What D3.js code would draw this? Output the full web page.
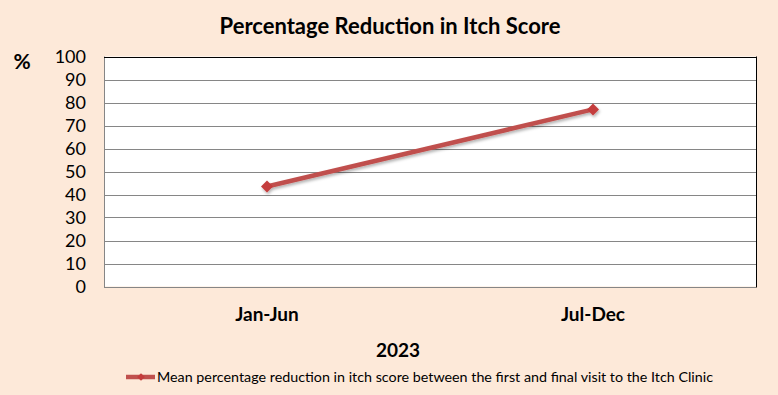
<!DOCTYPE html>
<html>
<head>
<meta charset="utf-8">
<script src="https://cdn.jsdelivr.net/npm/d3@7"></script>
<style>
  body { margin: 0; background: #fde9d9; }
  svg { display: block; }
  text { font-family: Lato, "Open Sans", sans-serif; fill: #000; }
</style>
</head>
<body>
<svg id="chart" width="778" height="395"></svg>
<script>
// chart data
var periods = ["Jan-Jun", "Jul-Dec"];
var reduction = [43.5, 77];
var yTicks = [0, 10, 20, 30, 40, 50, 60, 70, 80, 90, 100];
var seriesName = "Mean percentage reduction in itch score between the first and final visit to the Itch Clinic";
var chartTitle = "Percentage Reduction in Itch Score";
var xTitle = "2023";

var svg = d3.select("#chart");
var W = 778, H = 395;
var plotL = 104, plotR = 756, plotT = 56.5, plotB = 286.5;

svg.append("rect").attr("width", W).attr("height", H).attr("fill", "#fde9d9");

var xScale = d3.scaleBand().domain(periods).range([plotL, plotR]);
var yScale = d3.scaleLinear().domain([0, 100]).range([plotB, plotT]);

// plot area
svg.append("rect")
    .attr("x", plotL).attr("y", plotT)
    .attr("width", plotR - plotL).attr("height", plotB - plotT)
    .attr("fill", "#fff");

// gridlines
svg.append("g").selectAll("line")
    .data(yTicks)
    .enter().append("line")
    .attr("x1", plotL).attr("x2", plotR)
    .attr("y1", function (d) { return Math.round(yScale(d)) + 0.5; })
    .attr("y2", function (d) { return Math.round(yScale(d)) + 0.5; })
    .attr("stroke", "#868686").attr("stroke-width", 1);

// border: left/bottom gray, top/right dark
svg.append("line").attr("x1", plotL + 0.5).attr("x2", plotL + 0.5)
    .attr("y1", plotT).attr("y2", plotB + 1).attr("stroke", "#868686");
svg.append("line").attr("x1", plotL).attr("x2", plotR + 1)
    .attr("y1", Math.round(plotT) + 0.5).attr("y2", Math.round(plotT) + 0.5).attr("stroke", "#000");
svg.append("line").attr("x1", plotR + 0.5).attr("x2", plotR + 0.5)
    .attr("y1", plotT).attr("y2", plotB + 1).attr("stroke", "#000");

// y tick labels
svg.append("g").selectAll("text")
    .data(yTicks)
    .enter().append("text")
    .attr("x", 86)
    .attr("y", function (d) { return yScale(d); })
    .attr("dy", "0.36em")
    .attr("text-anchor", "end")
    .style("font-size", "18px")
    .text(function (d) { return d; });

// x labels
svg.append("g").selectAll("text")
    .data(periods)
    .enter().append("text")
    .attr("x", function (d) { return xScale(d) + xScale.bandwidth() / 2; })
    .attr("y", 321)
    .attr("text-anchor", "middle")
    .style("font-size", "19px").style("font-weight", "bold")
    .text(function (d) { return d; });

svg.append("text").attr("x", 398).attr("y", 357)
    .attr("text-anchor", "middle")
    .style("font-size", "19px").style("font-weight", "bold")
    .text(xTitle);

svg.append("text").attr("x", 390).attr("y", 34)
    .attr("text-anchor", "middle")
    .style("font-size", "22px").style("font-weight", "bold")
    .text(chartTitle);

svg.append("text").attr("x", 22).attr("y", 69)
    .attr("text-anchor", "middle")
    .style("font-size", "21px").style("font-weight", "bold")
    .text("%");

// shadow filter
var defs = svg.append("defs");
var f = defs.append("filter").attr("id", "sh").attr("x", "-20%").attr("y", "-20%")
    .attr("width", "140%").attr("height", "140%");
f.append("feDropShadow").attr("dx", 1).attr("dy", 2).attr("stdDeviation", 1.5)
    .attr("flood-color", "#000").attr("flood-opacity", 0.3);

var pts = periods.map(function (p, i) { return [xScale(p) + xScale.bandwidth() / 2, yScale(reduction[i])]; });

var g = svg.append("g").attr("filter", "url(#sh)");
g.append("path")
    .attr("d", d3.line()(pts))
    .attr("fill", "none").attr("stroke", "#c0504d").attr("stroke-width", 4.5);

// square markers turned 45 degrees -> Excel style diamond
var diamond = d3.symbol().type(d3.symbolSquare).size(72);
g.selectAll(".m")
    .data(pts)
    .enter().append("path")
    .attr("class", "m")
    .attr("transform", function (d) { return "translate(" + d[0] + "," + d[1] + ") rotate(45)"; })
    .attr("d", diamond)
    .attr("fill", "#c43c3c");

// legend
var ly = 377;
var lg = svg.append("g");
lg.append("line").attr("x1", 126).attr("x2", 155).attr("y1", ly).attr("y2", ly)
    .attr("stroke", "#c0504d").attr("stroke-width", 4.5);
lg.append("path").attr("transform", "translate(141," + ly + ") rotate(45)")
    .attr("d", d3.symbol().type(d3.symbolSquare).size(30))
    .attr("fill", "#c43c3c");
lg.append("text").attr("x", 157).attr("y", ly).attr("dy", "0.35em")
    .style("font-size", "14px")
    .attr("textLength", 556).attr("lengthAdjust", "spacingAndGlyphs")
    .text(seriesName);
</script>
</body>
</html>
